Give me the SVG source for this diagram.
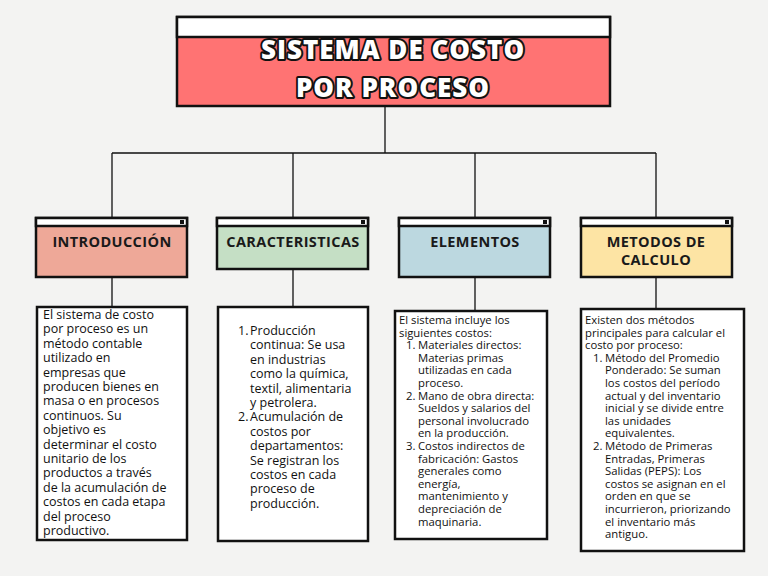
<svg xmlns="http://www.w3.org/2000/svg" width="768" height="576" viewBox="0 0 768 576">
<style>
.b{stroke:#111;stroke-width:2.5}
.t{font-family:"Open Sans","DejaVu Sans",sans-serif;font-weight:bold;font-size:14.5px;fill:#1a1a1a;text-anchor:middle;letter-spacing:0.4px}
.x{font-family:"Open Sans","DejaVu Sans",sans-serif;font-size:12.5px;fill:#111}
.s{font-family:"Open Sans","DejaVu Sans",sans-serif;font-size:11.3px;fill:#111}
.c{stroke:#111;stroke-width:1.3;fill:none}
</style>
<rect width="768" height="576" fill="#f3f3f2"/>
<g id="connectors">
<path class="c" d="M385 106V153M112 153H656M112 153V218M293 153V218M475 153V218M656 153V218M112 277V307M293 269V307M475 277V311M656 277V309"/>
</g>
<g id="title">
<rect x="177" y="17" width="433" height="89" fill="#ff7373" class="b"/>
<rect x="177" y="17" width="433" height="20" fill="#fff" class="b"/>
<g font-family="'Open Sans','DejaVu Sans',sans-serif" font-weight="900" font-size="26" letter-spacing="1" text-anchor="middle" fill="#fff" stroke="#111" stroke-width="4" paint-order="stroke" stroke-linejoin="round">
<text x="393" y="59">SISTEMA DE COSTO</text>
<text x="393" y="97">POR PROCESO</text></g>
</g>
<g id="introduccion">
<rect x="36" y="218" width="151" height="59" fill="#eea898" class="b"/>
<rect x="36" y="218" width="151" height="8" fill="#fff" class="b"/>
<rect x="180" y="220" width="4" height="4" fill="#111"/>
<text class="t" x="112" y="247">INTRODUCCIÓN</text>
</g>
<g id="caracteristicas">
<rect x="217" y="218" width="151" height="51" fill="#c5dfc5" class="b"/>
<rect x="217" y="218" width="151" height="8" fill="#fff" class="b"/>
<rect x="361" y="220" width="4" height="4" fill="#111"/>
<text class="t" x="293" y="247" letter-spacing="0">CARACTERISTICAS</text>
</g>
<g id="elementos">
<rect x="399" y="218" width="151" height="59" fill="#bcd8e0" class="b"/>
<rect x="399" y="218" width="151" height="8" fill="#fff" class="b"/>
<rect x="543" y="220" width="4" height="4" fill="#111"/>
<text class="t" x="475" y="247">ELEMENTOS</text>
</g>
<g id="metodos">
<rect x="581" y="218" width="151" height="59" fill="#fde4a4" class="b"/>
<rect x="581" y="218" width="151" height="8" fill="#fff" class="b"/>
<rect x="725" y="220" width="4" height="4" fill="#111"/>
<text class="t" x="656" y="247">METODOS DE</text>
<text class="t" x="656" y="265">CALCULO</text>
</g>
<g id="intro-text">
<rect x="37" y="307" width="150" height="233" fill="#fff" class="b" stroke-width="2"/>
<text class="x"><tspan x="43" y="319">El sistema de costo</tspan><tspan x="43" dy="14.4">por proceso es un</tspan><tspan x="43" dy="14.4">método contable</tspan><tspan x="43" dy="14.4">utilizado en</tspan><tspan x="43" dy="14.4">empresas que</tspan><tspan x="43" dy="14.4">producen bienes en</tspan><tspan x="43" dy="14.4">masa o en procesos</tspan><tspan x="43" dy="14.4">continuos. Su</tspan><tspan x="43" dy="14.4">objetivo es</tspan><tspan x="43" dy="14.4">determinar el costo</tspan><tspan x="43" dy="14.4">unitario de los</tspan><tspan x="43" dy="14.4">productos a través</tspan><tspan x="43" dy="14.4">de la acumulación de</tspan><tspan x="43" dy="14.4">costos en cada etapa</tspan><tspan x="43" dy="14.4">del proceso</tspan><tspan x="43" dy="14.4">productivo.</tspan></text>
</g>
<g id="carac-text">
<rect x="218" y="307" width="150" height="234" fill="#fff" class="b" stroke-width="2"/>
<text class="x"><tspan x="238" y="335">1.</tspan><tspan x="250">Producción</tspan><tspan x="250" dy="14.4">continua: Se usa</tspan><tspan x="250" dy="14.4">en industrias</tspan><tspan x="250" dy="14.4">como la química,</tspan><tspan x="250" dy="14.4">textil, alimentaria</tspan><tspan x="250" dy="14.4">y petrolera.</tspan><tspan x="238" dy="14.4">2.</tspan><tspan x="250">Acumulación de</tspan><tspan x="250" dy="14.4">costos por</tspan><tspan x="250" dy="14.4">departamentos:</tspan><tspan x="250" dy="14.4">Se registran los</tspan><tspan x="250" dy="14.4">costos en cada</tspan><tspan x="250" dy="14.4">proceso de</tspan><tspan x="250" dy="14.4">producción.</tspan></text>
</g>
<g id="elem-text">
<rect x="395" y="311" width="152" height="228" fill="#fff" class="b" stroke-width="2"/>
<text class="s"><tspan x="399" y="324">El sistema incluye los</tspan><tspan x="399" dy="12.6">siguientes costos:</tspan><tspan x="406" dy="12.6">1.</tspan><tspan x="418">Materiales directos:</tspan><tspan x="418" dy="12.6">Materias primas</tspan><tspan x="418" dy="12.6">utilizadas en cada</tspan><tspan x="418" dy="12.6">proceso.</tspan><tspan x="406" dy="12.6">2.</tspan><tspan x="418">Mano de obra directa:</tspan><tspan x="418" dy="12.6">Sueldos y salarios del</tspan><tspan x="418" dy="12.6">personal involucrado</tspan><tspan x="418" dy="12.6">en la producción.</tspan><tspan x="406" dy="12.6">3.</tspan><tspan x="418">Costos indirectos de</tspan><tspan x="418" dy="12.6">fabricación: Gastos</tspan><tspan x="418" dy="12.6">generales como</tspan><tspan x="418" dy="12.6">energía,</tspan><tspan x="418" dy="12.6">mantenimiento y</tspan><tspan x="418" dy="12.6">depreciación de</tspan><tspan x="418" dy="12.6">maquinaria.</tspan></text>
</g>
<g id="metodos-text">
<rect x="581" y="309" width="163" height="242" fill="#fff" class="b" stroke-width="2"/>
<text class="s"><tspan x="585" y="324">Existen dos métodos</tspan><tspan x="585" dy="12.6">principales para calcular el</tspan><tspan x="585" dy="12.6">costo por proceso:</tspan><tspan x="593" dy="12.6">1.</tspan><tspan x="605">Método del Promedio</tspan><tspan x="605" dy="12.6">Ponderado: Se suman</tspan><tspan x="605" dy="12.6">los costos del período</tspan><tspan x="605" dy="12.6">actual y del inventario</tspan><tspan x="605" dy="12.6">inicial y se divide entre</tspan><tspan x="605" dy="12.6">las unidades</tspan><tspan x="605" dy="12.6">equivalentes.</tspan><tspan x="593" dy="12.6">2.</tspan><tspan x="605">Método de Primeras</tspan><tspan x="605" dy="12.6">Entradas, Primeras</tspan><tspan x="605" dy="12.6">Salidas (PEPS): Los</tspan><tspan x="605" dy="12.6">costos se asignan en el</tspan><tspan x="605" dy="12.6">orden en que se</tspan><tspan x="605" dy="12.6">incurrieron, priorizando</tspan><tspan x="605" dy="12.6">el inventario más</tspan><tspan x="605" dy="12.6">antiguo.</tspan></text>
</g>
</svg>
